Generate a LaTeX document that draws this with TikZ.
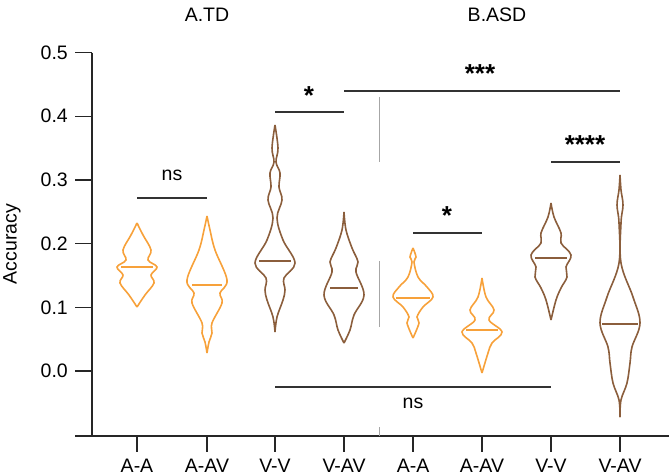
\documentclass[tikz,border=0pt]{standalone}
\usepackage{fontspec}
\setmainfont{Liberation Sans}
\definecolor{org}{HTML}{F7A13A}
\definecolor{brn}{HTML}{8B5E3C}
\newcommand\myvio[4]{%
 \begin{scope}[shift={(#1,0)}]
 \draw[#2,line width=1.6pt] plot[smooth,tension=0.6] coordinates {#3};
 \draw[#2,line width=1.6pt,xscale=-1] plot[smooth,tension=0.6] coordinates {#3};
 \draw[#2,line width=1.3pt] (-#4) -- (#4);
 \end{scope}}
\begin{document}
\begin{tikzpicture}[x=1pt,y=-1pt,
  bar/.style={line width=1.6pt,black!80},
  sig/.style={font=\fontsize{26}{26}\selectfont\bfseries},
  lab/.style={font=\fontsize{19.5}{20}\selectfont},
  sep/.style={gray!70,line width=1pt}]
\useasboundingbox (0,0) rectangle (669,476);
\node[lab] (t1) at (207,15) {A.TD};
\node[lab] (t2) at (497,15) {B.ASD};
\node[lab,rotate=90] (yl) at (12,244) {Accuracy};
% axes
\draw[line width=1.4pt,black!85] (92,52.7) -- (92,436) (75,436) -- (669,436);
\foreach \v/\l in {0.5/0.5,0.4/0.4,0.3/0.3,0.2/0.2,0.1/0.1,0.0/0.0}{
  \draw[line width=1.4pt,black!85] (75,{371-637*\v}) -- (92,{371-637*\v});
  \node[lab,anchor=east,inner sep=0pt] at (68,{371-637*\v}) {\l};}
\foreach \x/\l in {137/A-A,207/A-AV,275/V-V,344/V-AV,413/A-A,482/A-AV,551/V-V,620/V-AV}{
  \draw[line width=1.4pt,black!85] (\x,436) -- (\x,452);
  \node[lab] at (\x,466) {\l};}
% separator
\draw[sep] (379,97) -- (379,162) (379,261) -- (379,327) (379,427) -- (379,436);
% violins
\myvio{137}{org}{(0,223) (6,235) (14,250) (11,260) (20,267) (14,275) (17,283) (8,295) (0,307)}{16,267}
\myvio{207}{org}{(0,216) (3,230) (8,250) (20,280) (13,293) (15,303) (5,323) (5,333) (2,342) (0,353)}{15,285}
\myvio{275}{brn}{(0,125) (3,148) (1,162) (5,173) (4,187) (7,200) (2,218) (8,240) (20,263) (9,278) (10,290) (8,300) (2,317) (0,332)}{16,261}
\myvio{344}{brn}{(0,212) (2,230) (8,248) (14,262) (12,272) (20,295) (10,315) (6,330) (0,343)}{14,288}
\myvio{413}{org}{(0,248) (3,257) (1,262) (5,277) (14,287) (20,297) (10,307) (4,317) (6,323) (0,338)}{17,298}
\myvio{482}{org}{(0,278) (4,297) (12,310) (7,320) (20,332) (10,343) (6,353) (0,373)}{16,330}
\myvio{551}{brn}{(0,203) (3,217) (10,233) (10,243) (20,255) (15,267) (16,277) (10,288) (5,300) (0,320)}{16,258}
\myvio{620}{brn}{(0,175) (1,190) (3,205) (1,223) (1,263) (13,297) (20,323) (12,347) (10,363) (7,383) (1,400) (0,417)}{18,324}
% significance
\draw[bar] (137,198) -- (207,198); \node[lab] (n1) at (172,175) {ns};
\draw[bar] (275,112) -- (344,112); \node[sig] (s1) at (309,96) {*};
\draw[bar] (344,91) -- (620,91); \node[sig] (s3) at (480,74) {***};
\draw[bar] (551,162) -- (620,162); \node[sig] (s4) at (585,145) {****};
\draw[bar] (413,233) -- (482,233); \node[sig] (s2) at (447,216) {*};
\draw[bar] (275,387) -- (551,387); \node[lab] (n2) at (413,403) {ns};
\end{tikzpicture}
\end{document}
